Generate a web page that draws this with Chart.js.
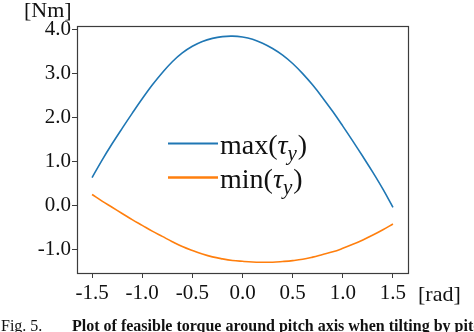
<!DOCTYPE html>
<html>
<head>
<meta charset="utf-8">
<script src="https://cdn.jsdelivr.net/npm/chart.js@4.4.1/dist/chart.umd.min.js"></script>
<style>
  html, body { margin: 0; padding: 0; background: #fff; }
  #wrap { position: relative; width: 474px; height: 332px; }
</style>
</head>
<body>
<div id="wrap"><canvas id="torquePlot"></canvas></div>
<script>
// pitch angle samples [rad]
const pitchAngles = [-1.5, -1.4, -1.3, -1.2, -1.1, -1.0, -0.9, -0.8, -0.7, -0.6, -0.5,
                     -0.4, -0.3, -0.2, -0.1, 0.0, 0.1, 0.2, 0.3, 0.4, 0.5,
                     0.6, 0.7, 0.8, 0.9, 1.0, 1.1, 1.2, 1.3, 1.4, 1.5];

// feasible torque bounds [Nm]
const maxTorque = [0.63, 1.03, 1.40, 1.75, 2.09, 2.42, 2.73, 3.01, 3.26, 3.46, 3.61,
                   3.72, 3.79, 3.83, 3.84, 3.82, 3.77, 3.68, 3.56, 3.41, 3.22,
                   2.99, 2.73, 2.44, 2.13, 1.80, 1.46, 1.11, 0.75, 0.37, -0.04];
const minTorque = [0.25, 0.10, -0.04, -0.18, -0.32, -0.45, -0.58, -0.70, -0.82, -0.93, -1.02,
                   -1.10, -1.165, -1.21, -1.245, -1.265, -1.28, -1.285, -1.285, -1.27, -1.25,
                   -1.22, -1.17, -1.11, -1.05, -0.97, -0.88, -0.78, -0.67, -0.55, -0.42];

const seriesNames = ['max', 'min'];
const seriesColors = ['#1f77b4', '#ff7f0e'];

const xTicks = [-1.5, -1.0, -0.5, 0.0, 0.5, 1.0, 1.5];
const yTicks = [-1.0, 0.0, 1.0, 2.0, 3.0, 4.0];

const serif = "'Liberation Serif', 'Times New Roman', serif";

function toPoints(values) {
    return pitchAngles.map((x, i) => ({ x: x, y: values[i] }));
}

// frame, unit labels, legend with subscripts, caption
const decorations = {
    id: 'decorations',
    afterDatasetsDraw(chart) {
        const { ctx, chartArea: a } = chart;
        ctx.save();
        ctx.strokeStyle = '#3c3c3c';
        ctx.lineWidth = 1.2;
        ctx.strokeRect(a.left + 0.5, a.top + 0.5, a.right - a.left, a.bottom - a.top);
        ctx.restore();
    },
    afterDraw(chart) {
        const { ctx } = chart;
        ctx.save();
        ctx.fillStyle = '#111';
        ctx.textBaseline = 'alphabetic';
        ctx.textAlign = 'left';

        ctx.font = `22px ${serif}`;
        ctx.fillText('[Nm]', 24, 17);
        ctx.fillText('[rad]', 418, 301);

        // legend
        const rows = [143.5, 177.5];
        seriesNames.forEach((name, i) => {
            const y = rows[i];
            ctx.strokeStyle = seriesColors[i];
            ctx.lineWidth = i === 0 ? 2 : 2.6;
            ctx.beginPath();
            ctx.moveTo(168, y);
            ctx.lineTo(218, y);
            ctx.stroke();

            let x = 220;
            const base = y + 10;
            ctx.font = `28px ${serif}`;
            ctx.fillText(name + '(', x, base);
            x += ctx.measureText(name + '(').width;
            ctx.font = `italic 28px ${serif}`;
            ctx.fillText('τ', x, base);
            x += ctx.measureText('τ').width;
            ctx.font = `italic 21px ${serif}`;
            ctx.fillText('y', x, base + 6);
            x += ctx.measureText('y').width + 1;
            ctx.font = `28px ${serif}`;
            ctx.fillText(')', x, base);
        });

        // caption
        ctx.fillStyle = '#111';
        ctx.font = `16px ${serif}`;
        ctx.fillText('Fig. 5.', 1, 331);
        ctx.font = `bold 16px ${serif}`;
        ctx.fillText('Plot of feasible torque around pitch axis when tilting by pitch', 72, 331);
        ctx.restore();
    }
};

const tickFont = { family: serif, size: 21 };

new Chart(document.getElementById('torquePlot'), {
    type: 'line',
    data: {
        datasets: [
            {
                label: seriesNames[0],
                data: toPoints(maxTorque),
                borderColor: seriesColors[0],
                borderWidth: 1.6,
                pointRadius: 0,
                tension: 0.4,
                fill: false
            },
            {
                label: seriesNames[1],
                data: toPoints(minTorque),
                borderColor: seriesColors[1],
                borderWidth: 1.6,
                pointRadius: 0,
                tension: 0.4,
                fill: false
            }
        ]
    },
    options: {
        responsive: true,
        maintainAspectRatio: false,
        animation: false,
        layout: { padding: { top: 26, right: 66, left: 0, bottom: 0 } },
        plugins: {
            legend: { display: false },
            tooltip: { enabled: false }
        },
        scales: {
            x: {
                type: 'linear',
                min: -1.65,
                max: 1.65,
                afterBuildTicks: s => { s.ticks = xTicks.map(v => ({ value: v })); },
                afterFit: s => { s.height = 59; },
                ticks: {
                    callback: v => v.toFixed(1),
                    color: '#111',
                    font: tickFont,
                    padding: 3,
                    maxRotation: 0,
                    autoSkip: false
                },
                grid: { drawOnChartArea: false, drawTicks: true, tickLength: 5, color: '#3c3c3c' },
                border: { display: false }
            },
            y: {
                min: -1.53,
                max: 4.07,
                afterBuildTicks: s => { s.ticks = yTicks.map(v => ({ value: v })); },
                afterFit: s => { s.width = 77; },
                ticks: {
                    callback: v => v.toFixed(1),
                    color: '#111',
                    font: tickFont,
                    padding: 1,
                    autoSkip: false
                },
                grid: { drawOnChartArea: false, drawTicks: true, tickLength: 5, color: '#3c3c3c' },
                border: { display: false }
            }
        }
    },
    plugins: [decorations]
});
</script>
</body>
</html>
